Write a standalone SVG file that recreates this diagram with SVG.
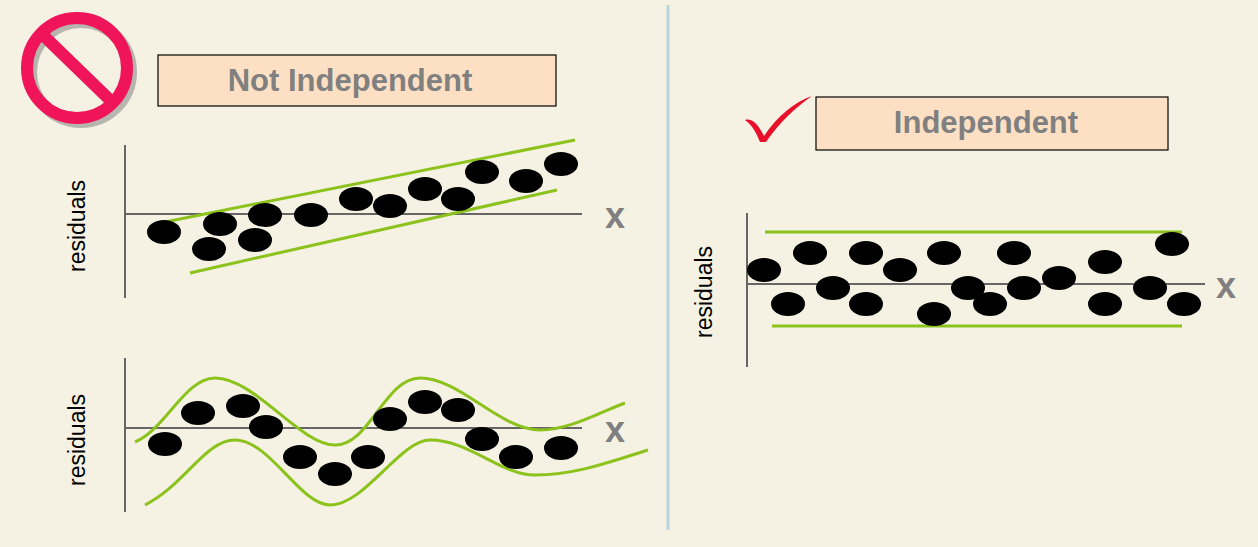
<svg xmlns="http://www.w3.org/2000/svg" width="1258" height="547" viewBox="0 0 1258 547">
<style>
.ax{stroke:#666;stroke-width:2;fill:none}
.g{stroke:#8cc21c;stroke-width:3;fill:none}
.d{fill:#000}
.box{fill:#fde0c4;stroke:#000;stroke-width:1.2}
.t{font-family:"Liberation Sans",Arial,sans-serif;font-weight:bold;font-size:31px;fill:#808080}
.x{font-family:"Liberation Sans",Arial,sans-serif;font-weight:bold;font-size:36px;fill:#808080}
.r{font-family:"Liberation Sans",Arial,sans-serif;font-size:23px;fill:#000}
</style>
<rect width="1258" height="547" fill="#f5f2e3"/>
<line x1="668" y1="5" x2="668" y2="530" stroke="#b5d5e0" stroke-width="3"/>
<g id="nosign">
<circle cx="81" cy="72" r="50" fill="none" stroke="#7a7a7a" stroke-width="12" opacity="0.5"/>
<line x1="48" y1="40" x2="115" y2="105" stroke="#7a7a7a" stroke-width="12" opacity="0.5"/>
<circle cx="77" cy="68" r="50" fill="none" stroke="#f0145a" stroke-width="12"/>
<line x1="44" y1="36" x2="111" y2="101" stroke="#f0145a" stroke-width="12"/>
</g>
<g id="label-not">
<rect class="box" x="158" y="55" width="398" height="51"/>
<text class="t" x="350" y="91" text-anchor="middle">Not Independent</text>
</g>
<g id="check">
<path d="M745,120 C752,118 758,124 764,136 C778,115 795,102 812,96 C795,108 780,122 766,142 L760,142 C756,132 752,125 745,120 Z" fill="#e8102a"/>
</g>
<g id="label-ind">
<rect class="box" x="816" y="97" width="352" height="53"/>
<text class="t" x="986" y="133" text-anchor="middle">Independent</text>
</g>
<g id="plot1">
<path class="ax" d="M125,145 V298 M125,214 H582"/>
<text class="x" x="615" y="228" text-anchor="middle">x</text>
<text class="r" transform="translate(85,226) rotate(-90)" text-anchor="middle">residuals</text>
<path class="g" d="M165,222 L575,140 M190,273 L557,190"/>
<g class="d">
<ellipse cx="164" cy="232" rx="17" ry="12"/><ellipse cx="220" cy="224" rx="17" ry="12"/><ellipse cx="209" cy="249" rx="17" ry="12"/><ellipse cx="255" cy="240" rx="17" ry="12"/><ellipse cx="265" cy="215" rx="17" ry="12"/><ellipse cx="311" cy="215" rx="17" ry="12"/><ellipse cx="356" cy="199" rx="17" ry="12"/><ellipse cx="390" cy="206" rx="17" ry="12"/><ellipse cx="425" cy="189" rx="17" ry="12"/><ellipse cx="458" cy="199" rx="17" ry="12"/><ellipse cx="482" cy="172" rx="17" ry="12"/><ellipse cx="526" cy="181" rx="17" ry="12"/><ellipse cx="561" cy="164" rx="17" ry="12"/>
</g>
</g>
<g id="plot2">
<path class="ax" d="M125,358 V512 M125,428 H582"/>
<text class="x" x="615" y="442" text-anchor="middle">x</text>
<text class="r" transform="translate(85,440) rotate(-90)" text-anchor="middle">residuals</text>
<path class="g" d="M135,442 C165,430 185,378 215,378 C255,378 300,445 335,445 C370,445 385,378 420,378 C460,378 500,430 540,430 C570,430 600,412 625,403"/>
<path class="g" d="M145,505 C185,485 205,440 235,440 C270,440 300,505 330,505 C365,505 400,440 430,440 C470,440 500,475 535,475 C575,475 610,462 648,450"/>
<g class="d">
<ellipse cx="165" cy="444" rx="17" ry="12"/><ellipse cx="198" cy="413" rx="17" ry="12"/><ellipse cx="243" cy="406" rx="17" ry="12"/><ellipse cx="266" cy="427" rx="17" ry="12"/><ellipse cx="300" cy="457" rx="17" ry="12"/><ellipse cx="335" cy="474" rx="17" ry="12"/><ellipse cx="368" cy="457" rx="17" ry="12"/><ellipse cx="390" cy="419" rx="17" ry="12"/><ellipse cx="425" cy="402" rx="17" ry="12"/><ellipse cx="458" cy="410" rx="17" ry="12"/><ellipse cx="482" cy="439" rx="17" ry="12"/><ellipse cx="516" cy="457" rx="17" ry="12"/><ellipse cx="561" cy="448" rx="17" ry="12"/>
</g>
</g>
<g id="plot3">
<path class="ax" d="M747,213 V367 M747,284 H1205"/>
<text class="x" x="1226" y="298" text-anchor="middle">x</text>
<text class="r" transform="translate(712,292) rotate(-90)" text-anchor="middle">residuals</text>
<path class="g" d="M765,232 H1182 M772,326 H1182"/>
<g class="d">
<ellipse cx="764" cy="270" rx="17" ry="12"/><ellipse cx="788" cy="304" rx="17" ry="12"/><ellipse cx="810" cy="253" rx="17" ry="12"/><ellipse cx="833" cy="288" rx="17" ry="12"/><ellipse cx="866" cy="253" rx="17" ry="12"/><ellipse cx="866" cy="304" rx="17" ry="12"/><ellipse cx="900" cy="270" rx="17" ry="12"/><ellipse cx="934" cy="314" rx="17" ry="12"/><ellipse cx="944" cy="253" rx="17" ry="12"/><ellipse cx="968" cy="288" rx="17" ry="12"/><ellipse cx="990" cy="304" rx="17" ry="12"/><ellipse cx="1014" cy="253" rx="17" ry="12"/><ellipse cx="1024" cy="288" rx="17" ry="12"/><ellipse cx="1059" cy="278" rx="17" ry="12"/><ellipse cx="1105" cy="262" rx="17" ry="12"/><ellipse cx="1105" cy="304" rx="17" ry="12"/><ellipse cx="1150" cy="288" rx="17" ry="12"/><ellipse cx="1172" cy="244" rx="17" ry="12"/><ellipse cx="1184" cy="304" rx="17" ry="12"/>
</g>
</g>
</svg>
